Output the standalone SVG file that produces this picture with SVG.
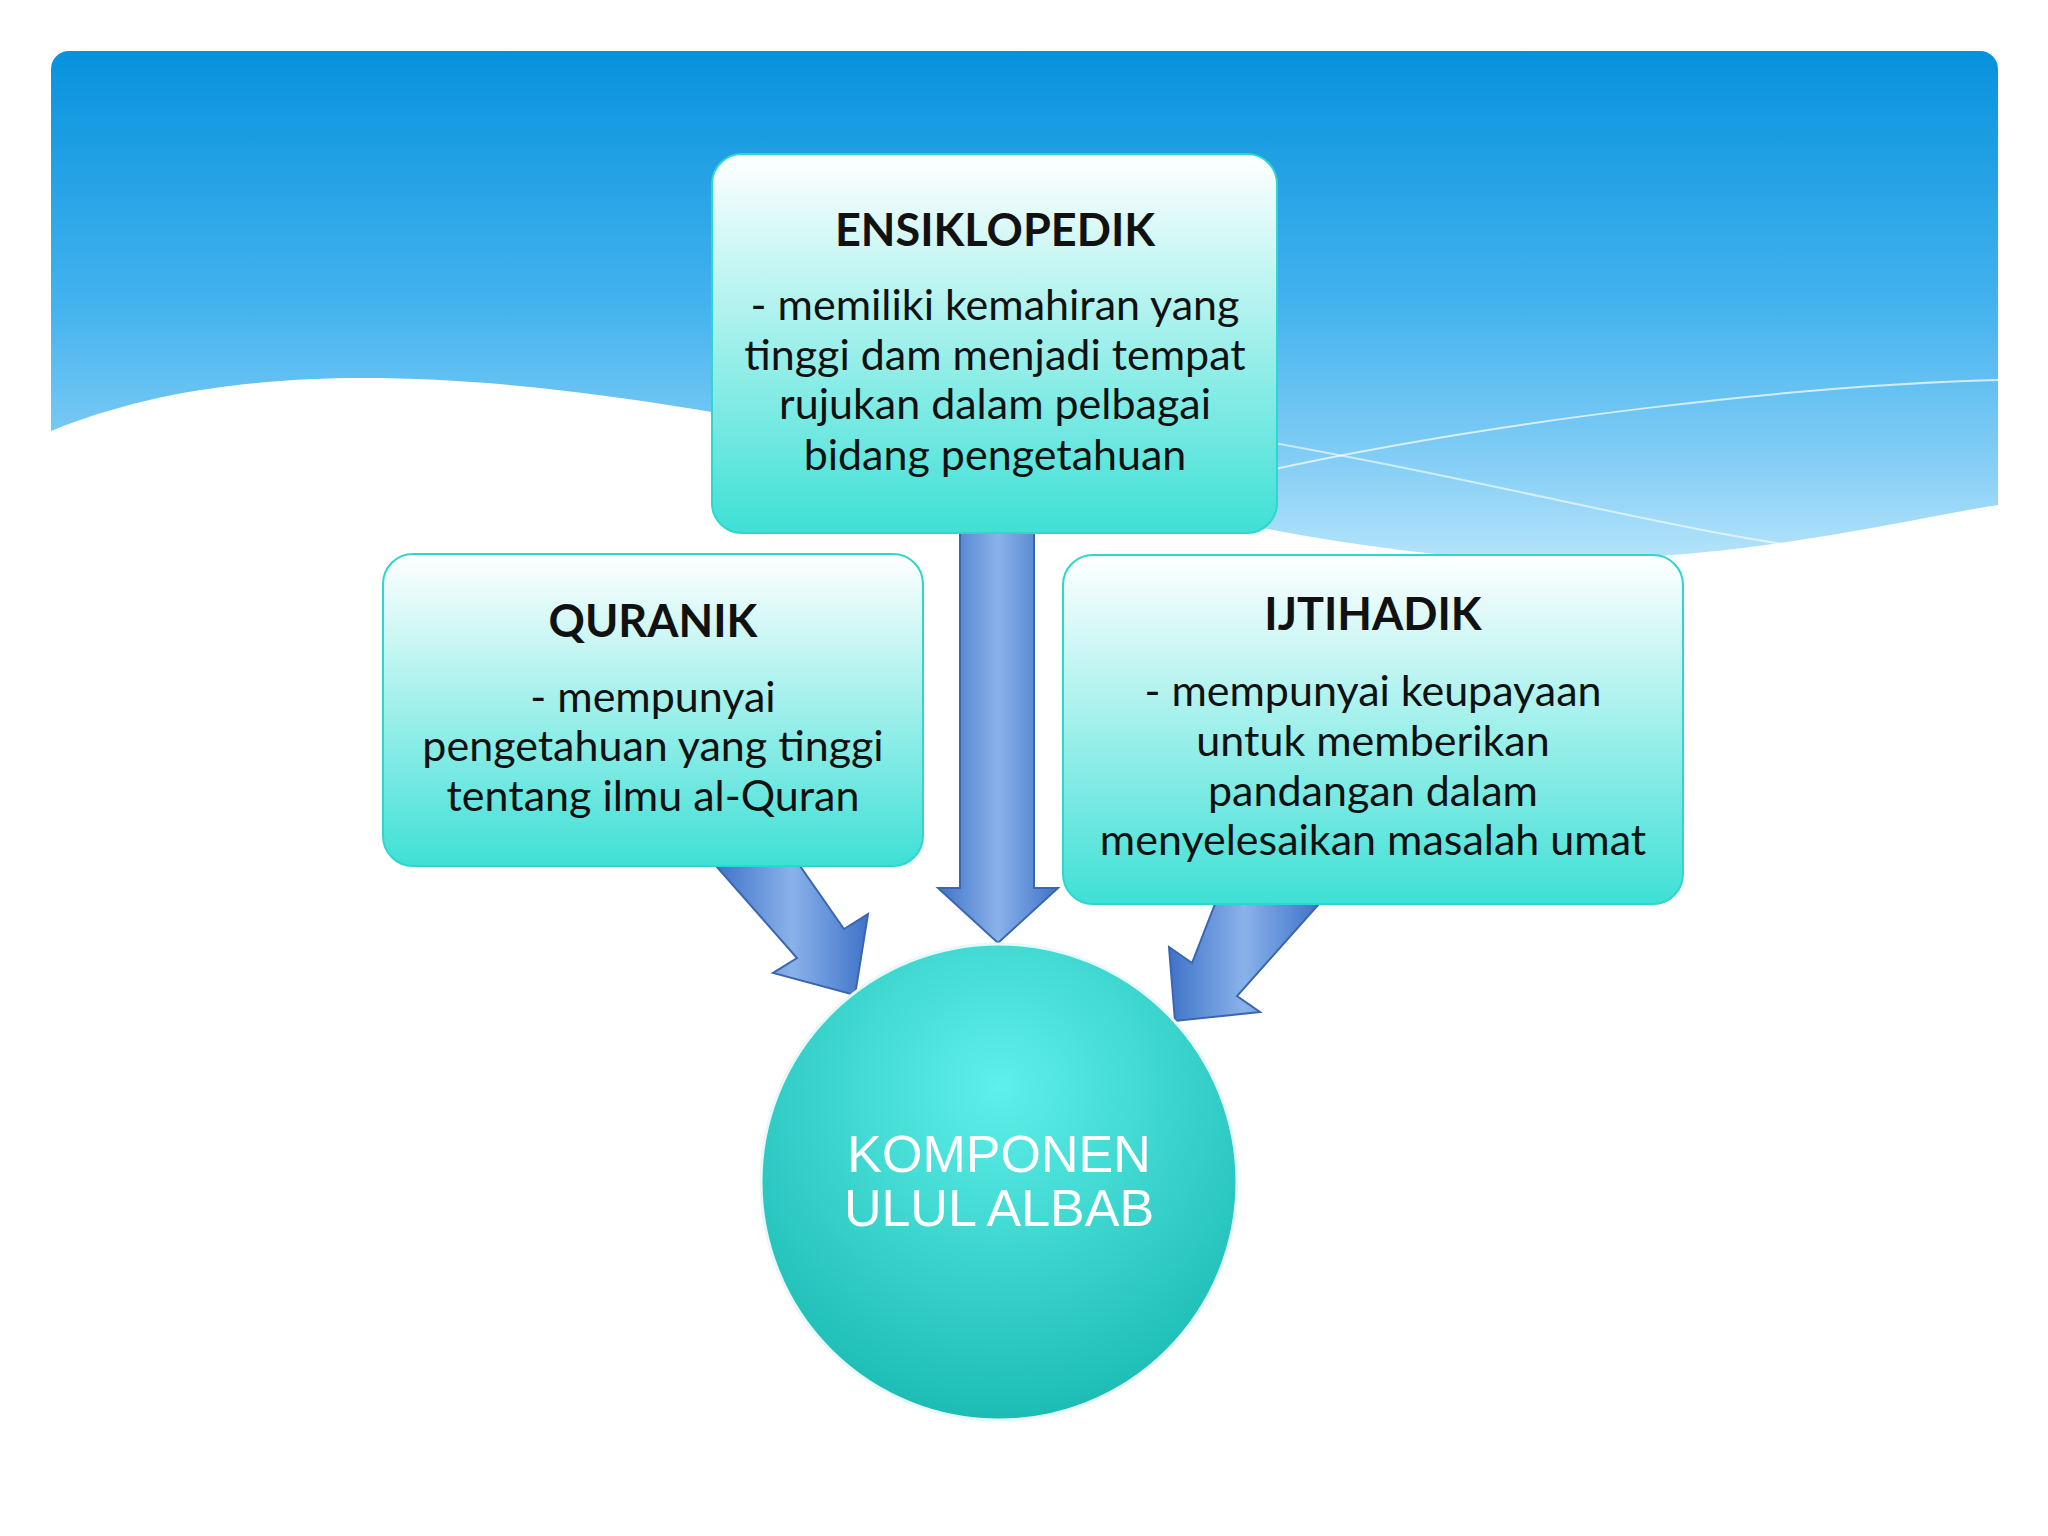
<svg xmlns="http://www.w3.org/2000/svg" width="2048" height="1536" viewBox="0 0 2048 1536">
<defs>
<linearGradient id="sky" gradientUnits="userSpaceOnUse" x1="0" y1="51" x2="0" y2="560"><stop offset="0" stop-color="#0792dd"/><stop offset="0.5" stop-color="#43b3ee"/><stop offset="0.8" stop-color="#82cdf5"/><stop offset="1" stop-color="#b5e4fa"/></linearGradient>
<linearGradient id="box" x1="0" y1="0" x2="0" y2="1"><stop offset="0" stop-color="#ffffff"/><stop offset="1" stop-color="#3ee0d6"/></linearGradient>
<radialGradient id="ball" cx="0.5" cy="0.3" r="0.7"><stop offset="0" stop-color="#5ef0ea"/><stop offset="1" stop-color="#1cbcb4"/></radialGradient>
<linearGradient id="arr" x1="0" y1="0" x2="1" y2="0"><stop offset="0" stop-color="#3f73c8"/><stop offset="0.5" stop-color="#8ab2ea"/><stop offset="1" stop-color="#3f73c8"/></linearGradient>
<style>
.bx{fill:url(#box);stroke:#2fd6cc;stroke-width:2}
.t{font-family:Lato,"Open Sans",sans-serif;font-weight:bold;font-size:45px;fill:#111;text-anchor:middle}
.b{font-family:Lato,"Open Sans",sans-serif;font-size:43px;fill:#111;text-anchor:middle}
.a{fill:url(#arr);stroke:#3a66b0;stroke-width:2}
.c{font-family:"Liberation Sans",Arial,sans-serif;font-size:52px;fill:#fff;text-anchor:middle}
</style>
</defs>
<rect width="2048" height="1536" fill="#fff"/>
<rect x="51" y="51" width="1947" height="1485" rx="18" fill="url(#sky)"/>
<path d="M51,431 C200,370 400,360 700,410 C1000,460 1300,560 1550,560 C1750,560 1900,520 1998,505 L1998,1536 L51,1536 Z" fill="#fff"/>
<path d="M1270,470 C1500,420 1800,385 1998,380" fill="none" stroke="#fff" stroke-width="2" opacity="0.7"/>
<path d="M1200,430 C1500,480 1700,540 1870,555" fill="none" stroke="#fff" stroke-width="2" opacity="0.6"/>
<g id="connectors">
<path class="a" d="M960,533 L1034,533 L1034,888 L1058,888 L998,943 L938,888 L960,888 Z"/>
<path class="a" d="M716,866 L800,866 L844,929 L868,914 L855,995 L773,973 L797,958 Z"/>
<path class="a" d="M1215,904 L1319,904 L1237,996 L1260,1012 L1175,1021 L1169,947 L1192,963 Z"/>
</g>
<g id="top"><rect class="bx" x="712" y="154" width="565" height="379" rx="30"/>
<text class="t" x="995" y="246">ENSIKLOPEDIK</text>
<text class="b" x="995" y="320">- memiliki kemahiran yang</text>
<text class="b" x="995" y="370">tinggi dam menjadi tempat</text>
<text class="b" x="995" y="419">rujukan dalam pelbagai</text>
<text class="b" x="995" y="470">bidang pengetahuan</text></g>
<g id="left"><rect class="bx" x="383" y="554" width="540" height="312" rx="30"/>
<text class="t" x="653" y="637">QURANIK</text>
<text class="b" x="653" y="712">- mempunyai</text>
<text class="b" x="653" y="761">pengetahuan yang tinggi</text>
<text class="b" x="653" y="811">tentang ilmu al-Quran</text></g>
<g id="right"><rect class="bx" x="1063" y="555" width="620" height="349" rx="30"/>
<text class="t" x="1373" y="630">IJTIHADIK</text>
<text class="b" x="1373" y="706">- mempunyai keupayaan</text>
<text class="b" x="1373" y="756">untuk memberikan</text>
<text class="b" x="1373" y="806">pandangan dalam</text>
<text class="b" x="1373" y="855">menyelesaikan masalah umat</text></g>
<g id="center"><circle cx="999" cy="1182" r="238" fill="url(#ball)" stroke="#e8f8f8" stroke-width="3"/>
<text class="c" x="999" y="1172">KOMPONEN</text>
<text class="c" x="999" y="1226">ULUL ALBAB</text></g>
</svg>
